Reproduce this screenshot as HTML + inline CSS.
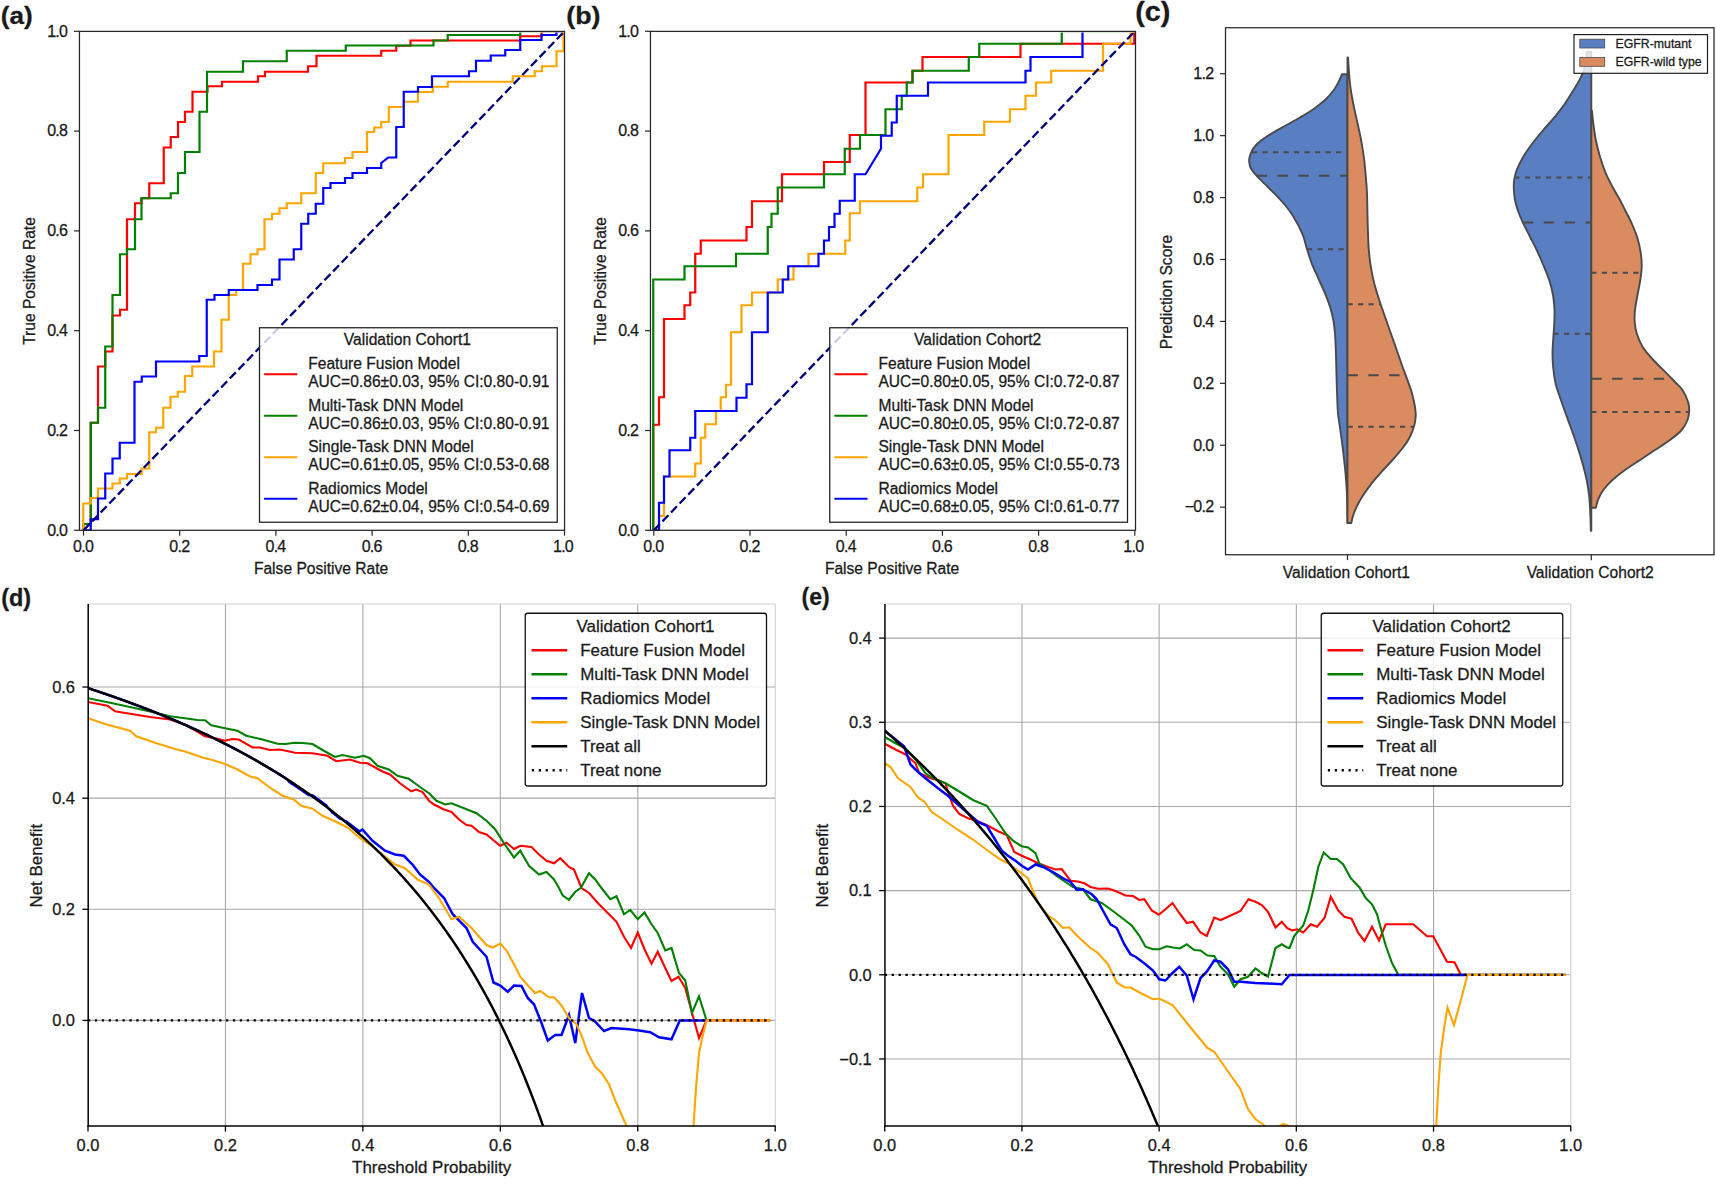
<!DOCTYPE html>
<html lang="en"><head><meta charset="utf-8"><title>Model performance figure</title>
<style>html,body{margin:0;padding:0;background:#fff}svg{display:block}text{font-family:"Liberation Sans", Arial, Helvetica, sans-serif;fill:#1a1a1a;stroke:#1a1a1a;stroke-width:.28px}</style>
</head><body>
<svg width="1716" height="1184" viewBox="0 0 1716 1184">
<rect x="0" y="0" width="1716" height="1184" fill="#ffffff"/>
<defs>
<clipPath id="clipA"><rect x="79" y="32.45" width="486.2" height="498.55"/></clipPath>
<clipPath id="clipB"><rect x="650" y="32.45" width="486.2" height="498.55"/></clipPath>
<clipPath id="clipC"><rect x="1225.5" y="27.75" width="488.5" height="527"/></clipPath>
<clipPath id="clipD"><rect x="88" y="604" width="687.25" height="522"/></clipPath>
<clipPath id="clipE"><rect x="884.75" y="604" width="686" height="522"/></clipPath>
</defs>
<g clip-path="url(#clipA)">
<polyline points="83.25,530.25 83.25,524 90.75,524 90.75,422.75 98,422.75 98,366.5 105.25,366.5 105.25,351.5 112.5,351.5 112.5,315.5 120,315.5 120,309.75 127,309.75 127,219.25 135,219.25 135,203.25 141.5,203.25 141.5,198.25 149.25,198.25 149.25,183.25 163.75,183.25 163.75,147.5 170.75,147.5 170.75,137 178,137 178,122 185,122 185,111.75 192.5,111.75 192.5,91.75 207.5,91.75 207.5,86.25 222,86.25 222,81.75 258,81.75 258,76.25 265,76.25 265,71.75 308,71.75 308,66.25 316.5,66.25 316.5,55.75 381.25,55.75 381.25,50.75 396.25,50.75 396.25,45.75 410.5,45.75 410.5,40.5 520.25,40.5 520.25,36.25 541.5,36.25 541.5,31.25 563.5,31.25" fill="none" stroke="#ff0000" stroke-width="2.2" stroke-linejoin="miter" />
<polyline points="83.25,530.25 83.25,524 90.75,524 90.75,422.75 98,422.75 98,407.75 105.25,407.75 105.25,346.5 112.5,346.5 112.5,295 120,295 120,254.25 127,254.25 127,249.25 135,249.25 135,219.25 141.5,219.25 141.5,198.25 170.75,198.25 170.75,193.25 178,193.25 178,173 185,173 185,152 199.5,152 199.5,111.75 207,111.75 207,71.75 243,71.75 243,61.25 286.75,61.25 286.75,50.75 345.75,50.75 345.75,45.5 433.5,45.5 433.5,40.5 447.75,40.5 447.75,35 520.25,35 520.25,31.25 563.5,31.25" fill="none" stroke="#008000" stroke-width="2.2" stroke-linejoin="miter" />
<polyline points="83.25,530.25 83.25,503.5 90.75,503.5 90.75,498 98,498 98,488.5 112.5,488.5 112.5,483.5 119.75,483.5 119.75,478.5 127,478.5 127,474 141.75,474 141.75,468.5 149.25,468.5 149.25,432.25 156,432.25 156,427.75 163.25,427.75 163.25,407.75 170.5,407.75 170.5,396.75 177.75,396.75 177.75,391.75 185,391.75 185,376 192.25,376 192.25,366.5 214,366.5 214,351.5 221.5,351.5 221.5,319.75 228.75,319.75 228.75,295 236.25,295 236.25,290 243,290 243,263.75 250.5,263.75 250.5,254.25 257.5,254.25 257.5,249.25 264.5,249.25 264.5,219.25 272,219.25 272,213.75 279.5,213.75 279.5,208.25 286.75,208.25 286.75,203.25 301.25,203.25 301.25,193.25 315.75,193.25 315.75,173 323.25,173 323.25,163.25 345,163.25 345,158 352.5,158 352.5,152 367,152 367,132 374.25,132 374.25,127.5 381.25,127.5 381.25,122 388.75,122 388.75,107 403.75,107 403.75,101.75 418,101.75 418,92 432.75,92 432.75,86.75 447.75,86.75 447.75,81.75 512.75,81.75 512.75,76.25 534.75,76.25 534.75,71.25 542,71.25 542,66.25 556.5,66.25 556.5,51.25 563.5,51.25 563.5,31.25" fill="none" stroke="#ffa500" stroke-width="2.2" stroke-linejoin="miter" />
<polyline points="83.25,530.25 90.75,530.25 90.75,519.25 98,519.25 98,498.5 105.25,498.5 105.25,473.5 112.5,473.5 112.5,458.5 119.75,458.5 119.75,442.75 134.5,442.75 134.5,381.75 141.75,381.75 141.75,376.5 156,376.5 156,361.5 199.25,361.5 199.25,356 206.75,356 206.75,299.75 214.5,299.75 214.5,295 228.75,295 228.75,290 257.5,290 257.5,285 272,285 272,279.5 279.5,279.5 279.5,259.5 293.75,259.5 293.75,249.25 301.25,249.25 301.25,223.75 308.25,223.75 308.25,213.75 315.75,213.75 315.75,203.75 323.25,203.75 323.25,188 330.5,188 330.5,183 345,183 345,178 352.5,178 352.5,173 367,173 367,168 381.25,168 381.25,163 388.25,157.5 396.25,157.5 396.25,127 403.75,127 403.75,91.75 418,91.75 418,87 432,87 432,76.25 469,76.25 469,71.25 476,71.25 476,60.75 490.75,60.75 490.75,55.5 505.25,55.5 505.25,50 520.25,50 520.25,40 541.5,40 541.5,35 556.5,35 556.5,31.25 563.5,31.25" fill="none" stroke="#0000ff" stroke-width="2.2" stroke-linejoin="miter" />
<line x1="83.5" y1="530.3" x2="564.5" y2="31.3" stroke="#00007f" stroke-width="2.3" stroke-dasharray="8.6 3.8"/>
</g>
<rect x="79.45" y="31.4" width="485.1" height="498.9" fill="none" stroke="#262626" stroke-width="1.25"/>
<line x1="83.5" y1="530.3" x2="83.5" y2="535.7" stroke="#262626" stroke-width="1.2" />
<text x="83.1" y="552.1" font-size="16.0" text-anchor="middle" font-weight="normal" letter-spacing="-0.72">0.0</text>
<line x1="74.05" y1="530.3" x2="79.45" y2="530.3" stroke="#262626" stroke-width="1.2" />
<text x="67.25" y="535.6" font-size="16.0" text-anchor="end" font-weight="normal" letter-spacing="-0.72">0.0</text>
<line x1="179.7" y1="530.3" x2="179.7" y2="535.7" stroke="#262626" stroke-width="1.2" />
<text x="179.3" y="552.1" font-size="16.0" text-anchor="middle" font-weight="normal" letter-spacing="-0.72">0.2</text>
<line x1="74.05" y1="430.5" x2="79.45" y2="430.5" stroke="#262626" stroke-width="1.2" />
<text x="67.25" y="435.8" font-size="16.0" text-anchor="end" font-weight="normal" letter-spacing="-0.72">0.2</text>
<line x1="275.9" y1="530.3" x2="275.9" y2="535.7" stroke="#262626" stroke-width="1.2" />
<text x="275.5" y="552.1" font-size="16.0" text-anchor="middle" font-weight="normal" letter-spacing="-0.72">0.4</text>
<line x1="74.05" y1="330.7" x2="79.45" y2="330.7" stroke="#262626" stroke-width="1.2" />
<text x="67.25" y="336" font-size="16.0" text-anchor="end" font-weight="normal" letter-spacing="-0.72">0.4</text>
<line x1="372.1" y1="530.3" x2="372.1" y2="535.7" stroke="#262626" stroke-width="1.2" />
<text x="371.7" y="552.1" font-size="16.0" text-anchor="middle" font-weight="normal" letter-spacing="-0.72">0.6</text>
<line x1="74.05" y1="230.9" x2="79.45" y2="230.9" stroke="#262626" stroke-width="1.2" />
<text x="67.25" y="236.2" font-size="16.0" text-anchor="end" font-weight="normal" letter-spacing="-0.72">0.6</text>
<line x1="468.3" y1="530.3" x2="468.3" y2="535.7" stroke="#262626" stroke-width="1.2" />
<text x="467.9" y="552.1" font-size="16.0" text-anchor="middle" font-weight="normal" letter-spacing="-0.72">0.8</text>
<line x1="74.05" y1="131.1" x2="79.45" y2="131.1" stroke="#262626" stroke-width="1.2" />
<text x="67.25" y="136.4" font-size="16.0" text-anchor="end" font-weight="normal" letter-spacing="-0.72">0.8</text>
<line x1="564.5" y1="530.3" x2="564.5" y2="535.7" stroke="#262626" stroke-width="1.2" />
<text x="563" y="552.1" font-size="16.0" text-anchor="middle" font-weight="normal" letter-spacing="-0.72">1.0</text>
<line x1="74.05" y1="31.3" x2="79.45" y2="31.3" stroke="#262626" stroke-width="1.2" />
<text x="67.25" y="36.6" font-size="16.0" text-anchor="end" font-weight="normal" letter-spacing="-0.72">1.0</text>
<text x="321.1" y="574" font-size="15.6" text-anchor="middle" font-weight="normal" >False Positive Rate</text>
<text x="34.6" y="281" font-size="15.6" text-anchor="middle" font-weight="normal" transform="rotate(-90 34.6 281)" >True Positive Rate</text>
<rect x="259.5" y="327.75" width="297.75" height="194.5" fill="#ffffff" fill-opacity="0.8" stroke="#1f1f1f" stroke-width="1.25"/>
<text x="407.38" y="344.9" font-size="15.6" text-anchor="middle" font-weight="normal" >Validation Cohort1</text>
<line x1="264.1" y1="374.25" x2="297.3" y2="374.25" stroke="#ff0000" stroke-width="1.9" />
<text x="308.2" y="369" font-size="15.6" text-anchor="start" font-weight="normal" >Feature Fusion Model</text>
<text x="308.2" y="387" font-size="15.6" text-anchor="start" font-weight="normal" >AUC=0.86±0.03, 95% CI:0.80-0.91</text>
<line x1="264.1" y1="415.75" x2="297.3" y2="415.75" stroke="#008000" stroke-width="1.9" />
<text x="308.2" y="410.5" font-size="15.6" text-anchor="start" font-weight="normal" >Multi-Task DNN Model</text>
<text x="308.2" y="428.5" font-size="15.6" text-anchor="start" font-weight="normal" >AUC=0.86±0.03, 95% CI:0.80-0.91</text>
<line x1="264.1" y1="457.25" x2="297.3" y2="457.25" stroke="#ffa500" stroke-width="1.9" />
<text x="308.2" y="452" font-size="15.6" text-anchor="start" font-weight="normal" >Single-Task DNN Model</text>
<text x="308.2" y="470" font-size="15.6" text-anchor="start" font-weight="normal" >AUC=0.61±0.05, 95% CI:0.53-0.68</text>
<line x1="264.1" y1="498.75" x2="297.3" y2="498.75" stroke="#0000ff" stroke-width="1.9" />
<text x="308.2" y="493.5" font-size="15.6" text-anchor="start" font-weight="normal" >Radiomics Model</text>
<text x="308.2" y="511.5" font-size="15.6" text-anchor="start" font-weight="normal" >AUC=0.62±0.04, 95% CI:0.54-0.69</text>
<g clip-path="url(#clipB)">
<polyline points="653.25,530.25 653.25,424.75 659,424.75 659,397.25 664,397.25 664,319 684.5,319 684.5,305.25 690.25,305.25 690.25,292.5 695.25,292.5 695.25,253.75 700.75,253.75 700.75,240.5 746.5,240.5 746.5,227 752,227 752,201.25 782,201.25 782,174.25 824,174.25 824,162 849.75,162 849.75,135 865.5,135 865.5,82.5 912.5,82.5 912.5,70.75 922.5,70.75 922.5,57 1020.5,57 1020.5,43.75 1134.25,43.75 1134.25,31.25" fill="none" stroke="#ff0000" stroke-width="2.2" stroke-linejoin="miter" />
<polyline points="653.25,530.25 653.25,279.5 684.5,279.5 684.5,266.25 736,266.25 736,253.75 767.75,253.75 767.75,227 771.5,227 771.5,213.75 777.75,213.75 777.75,187.5 824,187.5 824,174.25 844.75,174.25 844.75,148.75 860,148.75 860,135 885.5,135 885.5,109.25 901.75,109.25 901.75,95.75 906.75,95.75 906.75,82.5 912.5,82.5 912.5,70.75 968.75,70.75 968.75,57 979.25,57 979.25,43.75 1061.75,43.75 1061.75,31.25 1134.25,31.25" fill="none" stroke="#008000" stroke-width="2.2" stroke-linejoin="miter" />
<polyline points="653.25,530.25 659,530.25 659,516 664,516 664,476.5 695.25,476.5 695.25,463.5 700.75,463.5 700.75,437.75 705.25,437.75 705.25,424.25 716,424.25 716,411 720.75,411 720.75,397.25 726,397.25 726,384.75 731,384.75 731,332.25 741.5,332.25 741.5,305.25 752,305.25 752,292.5 777.75,292.5 777.75,279.5 793.5,279.5 793.5,266.25 808.5,266.25 808.5,253.75 845.25,253.75 845.25,240.5 849.75,240.5 849.75,213.25 860,213.25 860,201.25 917.25,201.25 917.25,187.5 923,187.5 923,174.25 948.5,174.25 948.5,135 984.25,135 984.25,121.75 1010,121.75 1010,109.25 1025.5,109.25 1025.5,95.75 1036,95.75 1036,82.5 1051.25,82.5 1051.25,70.75 1103,70.75 1103,43.75 1130.5,43.75 1130.5,31.25 1134.25,31.25" fill="none" stroke="#ffa500" stroke-width="2.2" stroke-linejoin="miter" />
<polyline points="653.25,530.25 659,530.25 659,502.75 664,502.75 664,476.5 669.5,476.5 669.5,450.25 690.25,450.25 690.25,437.75 695.25,437.75 695.25,411 736.5,411 736.5,397.75 746.5,397.75 746.5,384.25 752,384.25 752,332.25 767.75,332.25 767.75,292.5 782.75,292.5 782.75,279.5 788.25,279.5 788.25,266.25 818.5,266.25 818.5,253.75 824,253.75 824,240.5 829,240.5 829,227 834.5,227 834.5,213.75 839.75,213.75 839.75,200.75 854.75,200.75 854.75,174.25 865.5,174.25 881,148.75 881,135.75 891.75,135.75 891.75,122.5 896.75,122.5 896.75,95.75 928,95.75 928,82.5 1025.5,82.5 1025.5,70.75 1030.5,70.75 1030.5,57 1082.5,57 1082.5,31.25" fill="none" stroke="#0000ff" stroke-width="2.2" stroke-linejoin="miter" />
<line x1="653.8" y1="530.3" x2="1134.8" y2="31.3" stroke="#00007f" stroke-width="2.3" stroke-dasharray="8.6 3.8"/>
</g>
<rect x="650.45" y="31.4" width="485.05" height="498.9" fill="none" stroke="#262626" stroke-width="1.25"/>
<line x1="653.8" y1="530.3" x2="653.8" y2="535.7" stroke="#262626" stroke-width="1.2" />
<text x="653.4" y="552.1" font-size="16.0" text-anchor="middle" font-weight="normal" letter-spacing="-0.72">0.0</text>
<line x1="645.05" y1="530.3" x2="650.45" y2="530.3" stroke="#262626" stroke-width="1.2" />
<text x="638.25" y="535.6" font-size="16.0" text-anchor="end" font-weight="normal" letter-spacing="-0.72">0.0</text>
<line x1="750" y1="530.3" x2="750" y2="535.7" stroke="#262626" stroke-width="1.2" />
<text x="749.6" y="552.1" font-size="16.0" text-anchor="middle" font-weight="normal" letter-spacing="-0.72">0.2</text>
<line x1="645.05" y1="430.5" x2="650.45" y2="430.5" stroke="#262626" stroke-width="1.2" />
<text x="638.25" y="435.8" font-size="16.0" text-anchor="end" font-weight="normal" letter-spacing="-0.72">0.2</text>
<line x1="846.2" y1="530.3" x2="846.2" y2="535.7" stroke="#262626" stroke-width="1.2" />
<text x="845.8" y="552.1" font-size="16.0" text-anchor="middle" font-weight="normal" letter-spacing="-0.72">0.4</text>
<line x1="645.05" y1="330.7" x2="650.45" y2="330.7" stroke="#262626" stroke-width="1.2" />
<text x="638.25" y="336" font-size="16.0" text-anchor="end" font-weight="normal" letter-spacing="-0.72">0.4</text>
<line x1="942.4" y1="530.3" x2="942.4" y2="535.7" stroke="#262626" stroke-width="1.2" />
<text x="942" y="552.1" font-size="16.0" text-anchor="middle" font-weight="normal" letter-spacing="-0.72">0.6</text>
<line x1="645.05" y1="230.9" x2="650.45" y2="230.9" stroke="#262626" stroke-width="1.2" />
<text x="638.25" y="236.2" font-size="16.0" text-anchor="end" font-weight="normal" letter-spacing="-0.72">0.6</text>
<line x1="1038.6" y1="530.3" x2="1038.6" y2="535.7" stroke="#262626" stroke-width="1.2" />
<text x="1038.2" y="552.1" font-size="16.0" text-anchor="middle" font-weight="normal" letter-spacing="-0.72">0.8</text>
<line x1="645.05" y1="131.1" x2="650.45" y2="131.1" stroke="#262626" stroke-width="1.2" />
<text x="638.25" y="136.4" font-size="16.0" text-anchor="end" font-weight="normal" letter-spacing="-0.72">0.8</text>
<line x1="1134.8" y1="530.3" x2="1134.8" y2="535.7" stroke="#262626" stroke-width="1.2" />
<text x="1133.3" y="552.1" font-size="16.0" text-anchor="middle" font-weight="normal" letter-spacing="-0.72">1.0</text>
<line x1="645.05" y1="31.3" x2="650.45" y2="31.3" stroke="#262626" stroke-width="1.2" />
<text x="638.25" y="36.6" font-size="16.0" text-anchor="end" font-weight="normal" letter-spacing="-0.72">1.0</text>
<text x="892.08" y="574" font-size="15.6" text-anchor="middle" font-weight="normal" >False Positive Rate</text>
<text x="605.6" y="281" font-size="15.6" text-anchor="middle" font-weight="normal" transform="rotate(-90 605.6 281)" >True Positive Rate</text>
<rect x="829.75" y="327.75" width="297.75" height="194.5" fill="#ffffff" fill-opacity="0.8" stroke="#1f1f1f" stroke-width="1.25"/>
<text x="977.62" y="344.9" font-size="15.6" text-anchor="middle" font-weight="normal" >Validation Cohort2</text>
<line x1="834.35" y1="374.25" x2="867.55" y2="374.25" stroke="#ff0000" stroke-width="1.9" />
<text x="878.45" y="369" font-size="15.6" text-anchor="start" font-weight="normal" >Feature Fusion Model</text>
<text x="878.45" y="387" font-size="15.6" text-anchor="start" font-weight="normal" >AUC=0.80±0.05, 95% CI:0.72-0.87</text>
<line x1="834.35" y1="415.75" x2="867.55" y2="415.75" stroke="#008000" stroke-width="1.9" />
<text x="878.45" y="410.5" font-size="15.6" text-anchor="start" font-weight="normal" >Multi-Task DNN Model</text>
<text x="878.45" y="428.5" font-size="15.6" text-anchor="start" font-weight="normal" >AUC=0.80±0.05, 95% CI:0.72-0.87</text>
<line x1="834.35" y1="457.25" x2="867.55" y2="457.25" stroke="#ffa500" stroke-width="1.9" />
<text x="878.45" y="452" font-size="15.6" text-anchor="start" font-weight="normal" >Single-Task DNN Model</text>
<text x="878.45" y="470" font-size="15.6" text-anchor="start" font-weight="normal" >AUC=0.63±0.05, 95% CI:0.55-0.73</text>
<line x1="834.35" y1="498.75" x2="867.55" y2="498.75" stroke="#0000ff" stroke-width="1.9" />
<text x="878.45" y="493.5" font-size="15.6" text-anchor="start" font-weight="normal" >Radiomics Model</text>
<text x="878.45" y="511.5" font-size="15.6" text-anchor="start" font-weight="normal" >AUC=0.68±0.05, 95% CI:0.61-0.77</text>
<g clip-path="url(#clipC)">
<path d="M1347.5,74.2 L1342,74.2 C1341.38,75.58 1339.75,79.73 1338.3,82.5 C1336.85,85.27 1335.52,87.88 1333.3,90.8 C1331.08,93.72 1328.33,96.93 1325,100 C1321.67,103.07 1317.47,106.28 1313.3,109.2 C1309.13,112.12 1304.43,114.87 1300,117.5 C1295.57,120.13 1291.15,122.5 1286.7,125 C1282.25,127.5 1277.47,130 1273.3,132.5 C1269.13,135 1265.03,137.37 1261.7,140 C1258.37,142.63 1255.3,145.52 1253.3,148.3 C1251.3,151.08 1250.38,154.47 1249.7,156.7 C1249.02,158.93 1249.02,159.77 1249.2,161.7 C1249.38,163.63 1249.55,165.95 1250.8,168.3 C1252.05,170.65 1254.33,173.15 1256.7,175.8 C1259.07,178.45 1261.95,181.13 1265,184.2 C1268.05,187.27 1271.67,190.73 1275,194.2 C1278.33,197.67 1281.92,201.25 1285,205 C1288.08,208.75 1290.58,211.83 1293.5,216.7 C1296.42,221.57 1300.25,228.78 1302.5,234.2 C1304.75,239.62 1305.47,244.35 1307,249.2 C1308.53,254.05 1309.82,258.45 1311.7,263.3 C1313.58,268.15 1316.08,273.3 1318.3,278.3 C1320.52,283.3 1323.05,288.57 1325,293.3 C1326.95,298.03 1328.62,302.25 1330,306.7 C1331.38,311.15 1332.47,315.57 1333.3,320 C1334.13,324.43 1334.58,328.3 1335,333.3 C1335.42,338.3 1335.58,344.43 1335.8,350 C1336.02,355.57 1336.15,361.15 1336.3,366.7 C1336.45,372.25 1336.55,378.3 1336.7,383.3 C1336.85,388.3 1336.98,391.7 1337.2,396.7 C1337.42,401.7 1337.4,407.2 1338,413.3 C1338.6,419.4 1339.9,426.63 1340.8,433.3 C1341.7,439.97 1342.62,446.63 1343.4,453.3 C1344.18,459.97 1344.92,466.63 1345.5,473.3 C1346.08,479.97 1346.6,486.63 1346.9,493.3 C1347.2,499.97 1347.2,508.35 1347.3,513.3 C1347.4,518.25 1347.47,521.38 1347.5,523 L1347.5,523 Z" fill="#5a7ec2" stroke="#4a4a4a" stroke-width="1.9" stroke-linejoin="round"/>
<path d="M1347.5,57.5 L1348,57.5 C1348.2,60.42 1348.73,69.58 1349.2,75 C1349.67,80.42 1349.97,84.45 1350.8,90 C1351.63,95.55 1352.95,102.18 1354.2,108.3 C1355.45,114.42 1357.05,120.87 1358.3,126.7 C1359.55,132.53 1360.72,137.75 1361.7,143.3 C1362.68,148.85 1363.52,154.43 1364.2,160 C1364.88,165.57 1365.33,171.15 1365.8,176.7 C1366.27,182.25 1366.72,186.63 1367,193.3 C1367.28,199.97 1367.33,210.03 1367.5,216.7 C1367.67,223.37 1367.78,227.75 1368,233.3 C1368.22,238.85 1368.33,244.43 1368.8,250 C1369.27,255.57 1369.9,261.15 1370.8,266.7 C1371.7,272.25 1372.8,277.75 1374.2,283.3 C1375.6,288.85 1377.4,294.43 1379.2,300 C1381,305.57 1383.07,311.15 1385,316.7 C1386.93,322.25 1388.85,327.75 1390.8,333.3 C1392.75,338.85 1394.75,344.43 1396.7,350 C1398.65,355.57 1400.65,361.53 1402.5,366.7 C1404.35,371.87 1406.38,377.12 1407.8,381 C1409.22,384.88 1410.03,386.83 1411,390 C1411.97,393.17 1412.88,396.83 1413.6,400 C1414.32,403.17 1414.95,406.33 1415.3,409 C1415.65,411.67 1415.85,413.33 1415.7,416 C1415.55,418.67 1415.35,421.55 1414.4,425 C1413.45,428.45 1411.98,432.82 1410,436.7 C1408.02,440.58 1405.42,444.42 1402.5,448.3 C1399.58,452.18 1395.97,456.1 1392.5,460 C1389.03,463.9 1385.17,467.82 1381.7,471.7 C1378.23,475.58 1374.77,479.42 1371.7,483.3 C1368.63,487.18 1365.67,491.38 1363.3,495 C1360.93,498.62 1359.17,501.67 1357.5,505 C1355.83,508.33 1354.33,512 1353.3,515 C1352.27,518 1351.63,521.67 1351.3,523 L1347.5,523 Z" fill="#da8b5f" stroke="#4a4a4a" stroke-width="1.9" stroke-linejoin="round"/>
<path d="M1591.3,51.7 L1586.7,51.7 C1586.6,53.25 1586.6,57.78 1586.1,61 C1585.6,64.22 1584.52,68.42 1583.7,71 C1582.88,73.58 1582.15,74.53 1581.2,76.5 C1580.25,78.47 1579.37,80.38 1578,82.8 C1576.63,85.22 1575.17,87.55 1573,91 C1570.83,94.45 1568,99.22 1565,103.5 C1562,107.78 1558.62,112.28 1555,116.7 C1551.38,121.12 1547.05,125.57 1543.3,130 C1539.55,134.43 1535.83,138.85 1532.5,143.3 C1529.17,147.75 1525.93,152.25 1523.3,156.7 C1520.67,161.15 1518.22,166.12 1516.7,170 C1515.18,173.88 1514.68,176.95 1514.2,180 C1513.72,183.05 1513.67,184.97 1513.8,188.3 C1513.93,191.63 1514.25,196.1 1515,200 C1515.75,203.9 1516.92,207.82 1518.3,211.7 C1519.68,215.58 1521.35,219.13 1523.3,223.3 C1525.25,227.47 1527.77,232.25 1530,236.7 C1532.23,241.15 1534.48,245.28 1536.7,250 C1538.92,254.72 1541.22,260 1543.3,265 C1545.38,270 1547.58,275 1549.2,280 C1550.82,285 1552.12,290 1553,295 C1553.88,300 1554.3,305 1554.5,310 C1554.7,315 1554.4,320.28 1554.2,325 C1554,329.72 1553.58,333.58 1553.3,338.3 C1553.02,343.02 1552.5,348.3 1552.5,353.3 C1552.5,358.3 1552.8,363.3 1553.3,368.3 C1553.8,373.3 1554.52,378.85 1555.5,383.3 C1556.48,387.75 1557.62,390.27 1559.2,395 C1560.78,399.73 1562.92,405.87 1565,411.7 C1567.08,417.53 1569.62,424.17 1571.7,430 C1573.78,435.83 1575.7,441.15 1577.5,446.7 C1579.3,452.25 1580.97,457.75 1582.5,463.3 C1584.03,468.85 1585.58,474.43 1586.7,480 C1587.82,485.57 1588.6,491.15 1589.2,496.7 C1589.8,502.25 1590.03,507.62 1590.3,513.3 C1590.57,518.98 1590.72,527.88 1590.8,530.8 L1591.3,530.8 Z" fill="#5a7ec2" stroke="#4a4a4a" stroke-width="1.9" stroke-linejoin="round"/>
<path d="M1591.3,110.8 L1592,110.8 C1592.22,112.88 1592.67,118.43 1593.3,123.3 C1593.93,128.17 1594.68,134.43 1595.8,140 C1596.92,145.57 1598.33,151.15 1600,156.7 C1601.67,162.25 1603.58,168.03 1605.8,173.3 C1608.02,178.57 1610.93,183.85 1613.3,188.3 C1615.67,192.75 1618.05,196.38 1620,200 C1621.95,203.62 1623.05,206.12 1625,210 C1626.95,213.88 1629.62,218.58 1631.7,223.3 C1633.78,228.02 1635.98,233.3 1637.5,238.3 C1639.02,243.3 1640.1,248.57 1640.8,253.3 C1641.5,258.03 1641.78,262.25 1641.7,266.7 C1641.62,271.15 1641,275.28 1640.3,280 C1639.6,284.72 1638.38,290 1637.5,295 C1636.62,300 1635.47,305.55 1635,310 C1634.53,314.45 1634.42,317.82 1634.7,321.7 C1634.98,325.58 1635.4,329.13 1636.7,333.3 C1638,337.47 1639.73,342.25 1642.5,346.7 C1645.27,351.15 1649.27,355.57 1653.3,360 C1657.33,364.43 1662.92,369.47 1666.7,373.3 C1670.48,377.13 1673.37,380.22 1676,383 C1678.63,385.78 1680.5,386.88 1682.5,390 C1684.5,393.12 1686.88,398.23 1688,401.7 C1689.12,405.17 1689.28,407.75 1689.2,410.8 C1689.12,413.85 1688.75,416.8 1687.5,420 C1686.25,423.2 1684.62,426.67 1681.7,430 C1678.78,433.33 1674.45,436.67 1670,440 C1665.55,443.33 1660,446.67 1655,450 C1650,453.33 1645,456.67 1640,460 C1635,463.33 1629.58,466.67 1625,470 C1620.42,473.33 1616.12,476.67 1612.5,480 C1608.88,483.33 1605.67,486.8 1603.3,490 C1600.93,493.2 1599.55,496.23 1598.3,499.2 C1597.05,502.17 1596.22,506.37 1595.8,507.8 L1591.3,507.8 Z" fill="#da8b5f" stroke="#4a4a4a" stroke-width="1.9" stroke-linejoin="round"/>
<line x1="1252" y1="152.2" x2="1347.5" y2="152.2" stroke="#4a4a4a" stroke-width="2.0" stroke-dasharray="5.2 5.3"/>
<line x1="1256.7" y1="175.8" x2="1347.5" y2="175.8" stroke="#4a4a4a" stroke-width="2.0" stroke-dasharray="10.4 10.4"/>
<line x1="1307" y1="249.3" x2="1347.5" y2="249.3" stroke="#4a4a4a" stroke-width="2.0" stroke-dasharray="5.2 5.3"/>
<line x1="1347.5" y1="304.3" x2="1381" y2="304.3" stroke="#4a4a4a" stroke-width="2.0" stroke-dasharray="5.2 5.3"/>
<line x1="1347.5" y1="375.2" x2="1405.5" y2="375.2" stroke="#4a4a4a" stroke-width="2.0" stroke-dasharray="10.4 10.4"/>
<line x1="1347.5" y1="426.8" x2="1414" y2="426.8" stroke="#4a4a4a" stroke-width="2.0" stroke-dasharray="5.2 5.3"/>
<line x1="1514.4" y1="177.5" x2="1591.3" y2="177.5" stroke="#4a4a4a" stroke-width="2.0" stroke-dasharray="5.2 5.3"/>
<line x1="1523" y1="222.5" x2="1591.3" y2="222.5" stroke="#4a4a4a" stroke-width="2.0" stroke-dasharray="10.4 10.4"/>
<line x1="1553.6" y1="333.8" x2="1591.3" y2="333.8" stroke="#4a4a4a" stroke-width="2.0" stroke-dasharray="5.2 5.3"/>
<line x1="1591.3" y1="272.8" x2="1641.3" y2="272.8" stroke="#4a4a4a" stroke-width="2.0" stroke-dasharray="5.2 5.3"/>
<line x1="1591.3" y1="378.7" x2="1672" y2="378.7" stroke="#4a4a4a" stroke-width="2.0" stroke-dasharray="10.4 10.4"/>
<line x1="1591.3" y1="412" x2="1689" y2="412" stroke="#4a4a4a" stroke-width="2.0" stroke-dasharray="5.2 5.3"/>
</g>
<rect x="1225.5" y="27.75" width="488.5" height="527" fill="none" stroke="#262626" stroke-width="1.25"/>
<line x1="1220.1" y1="507.17" x2="1225.5" y2="507.17" stroke="#262626" stroke-width="1.2" />
<text x="1213.4" y="512.47" font-size="16.0" text-anchor="end" font-weight="normal" letter-spacing="-0.72">−0.2</text>
<line x1="1220.1" y1="445.25" x2="1225.5" y2="445.25" stroke="#262626" stroke-width="1.2" />
<text x="1213.4" y="450.55" font-size="16.0" text-anchor="end" font-weight="normal" letter-spacing="-0.72">0.0</text>
<line x1="1220.1" y1="383.33" x2="1225.5" y2="383.33" stroke="#262626" stroke-width="1.2" />
<text x="1213.4" y="388.63" font-size="16.0" text-anchor="end" font-weight="normal" letter-spacing="-0.72">0.2</text>
<line x1="1220.1" y1="321.41" x2="1225.5" y2="321.41" stroke="#262626" stroke-width="1.2" />
<text x="1213.4" y="326.71" font-size="16.0" text-anchor="end" font-weight="normal" letter-spacing="-0.72">0.4</text>
<line x1="1220.1" y1="259.49" x2="1225.5" y2="259.49" stroke="#262626" stroke-width="1.2" />
<text x="1213.4" y="264.79" font-size="16.0" text-anchor="end" font-weight="normal" letter-spacing="-0.72">0.6</text>
<line x1="1220.1" y1="197.57" x2="1225.5" y2="197.57" stroke="#262626" stroke-width="1.2" />
<text x="1213.4" y="202.87" font-size="16.0" text-anchor="end" font-weight="normal" letter-spacing="-0.72">0.8</text>
<line x1="1220.1" y1="135.65" x2="1225.5" y2="135.65" stroke="#262626" stroke-width="1.2" />
<text x="1213.4" y="140.95" font-size="16.0" text-anchor="end" font-weight="normal" letter-spacing="-0.72">1.0</text>
<line x1="1220.1" y1="73.73" x2="1225.5" y2="73.73" stroke="#262626" stroke-width="1.2" />
<text x="1213.4" y="79.03" font-size="16.0" text-anchor="end" font-weight="normal" letter-spacing="-0.72">1.2</text>
<line x1="1347.5" y1="554.75" x2="1347.5" y2="560.15" stroke="#262626" stroke-width="1.2" />
<text x="1346.4" y="577.6" font-size="15.6" text-anchor="middle" font-weight="normal" >Validation Cohort1</text>
<line x1="1591.3" y1="554.75" x2="1591.3" y2="560.15" stroke="#262626" stroke-width="1.2" />
<text x="1590.2" y="577.6" font-size="15.6" text-anchor="middle" font-weight="normal" >Validation Cohort2</text>
<text x="1172.4" y="292" font-size="15.6" text-anchor="middle" font-weight="normal" transform="rotate(-90 1172.4 292)" >Prediction Score</text>
<rect x="1574" y="34.6" width="133.5" height="38.7" fill="#ffffff" fill-opacity="0.8" stroke="#1f1f1f" stroke-width="1.2"/>
<rect x="1579.8" y="39.2" width="24.9" height="8.8" fill="#5a7ec2" stroke="#4a4a4a" stroke-width="0.8"/>
<rect x="1579.8" y="57.5" width="24.9" height="8.8" fill="#da8b5f" stroke="#4a4a4a" stroke-width="0.8"/>
<text x="1615.6" y="47.6" font-size="12.3" text-anchor="start" font-weight="normal" >EGFR-mutant</text>
<text x="1615.6" y="65.9" font-size="12.3" text-anchor="start" font-weight="normal" >EGFR-wild type</text>
<line x1="225.44" y1="604" x2="225.44" y2="1126" stroke="#a9a9a9" stroke-width="1.1" />
<line x1="362.88" y1="604" x2="362.88" y2="1126" stroke="#a9a9a9" stroke-width="1.1" />
<line x1="500.32" y1="604" x2="500.32" y2="1126" stroke="#a9a9a9" stroke-width="1.1" />
<line x1="637.76" y1="604" x2="637.76" y2="1126" stroke="#a9a9a9" stroke-width="1.1" />
<line x1="88" y1="909.28" x2="775.25" y2="909.28" stroke="#a9a9a9" stroke-width="1.1" />
<line x1="88" y1="798.16" x2="775.25" y2="798.16" stroke="#a9a9a9" stroke-width="1.1" />
<line x1="88" y1="687.04" x2="775.25" y2="687.04" stroke="#a9a9a9" stroke-width="1.1" />
<line x1="88" y1="1020.4" x2="775.25" y2="1020.4" stroke="#a9a9a9" stroke-width="1.1" />
<line x1="88" y1="604" x2="775.25" y2="604" stroke="#cfcfcf" stroke-width="1.1" />
<line x1="775.25" y1="604" x2="775.25" y2="1126" stroke="#cfcfcf" stroke-width="1.1" />
<g clip-path="url(#clipD)">
<polyline points="88,702 107.5,705.75 115,711.25 130,713.75 150,717 170,719.5 185,724.5 195,730.25 205,736.25 217.5,738.75 225,740.75 232.5,739 238.75,739.5 252.5,747.5 260,747.5 270,750 280,749.5 295,752.75 312.5,753.25 327.5,755.75 336.25,761.25 350,759.5 360,762.75 367.5,763.25 382.5,771.5 390,774.5 400,783.25 411.25,791.25 416.25,789.5 422.5,792 429,800.75 434,804.5 444,809.5 451.5,812 459,819.5 466.5,825 471.5,825.75 479,832 486.5,834.5 494,840.75 500.25,845.75 506.5,842.75 514,849 520.25,845.75 531.5,847 539,854.5 546.5,860.75 554,863.25 560.25,858.25 569,867 574,869.5 581.5,888 589,893 599,904.25 616.5,921.75 624,936.75 631,948 637.75,932.5 644.5,949.25 651.5,963.75 657.75,951.75 665.25,968 671.5,981 678.5,976.75 685.25,988 692,1013 699,1038 706.5,1020.38 770.25,1020.38" fill="none" stroke="#ff0000" stroke-width="2.1" stroke-linejoin="miter" stroke-linejoin="round"/>
<polyline points="88,698.25 112.5,703.25 130,707 150,711.5 170,716.25 185,718.25 197.5,720 205,720.25 211.25,725.25 225,728.25 237.5,730.75 246.25,735.75 262.5,739.5 277.5,743.75 285,744 295,742.75 302.5,743 312.5,744 322.5,750 335,757 342.5,755 355,757.75 363.75,755.75 370,758.25 377.5,765.75 388.75,769.5 397.5,775.75 408.75,778.75 420,787 429,793.25 436.5,800.75 445.25,804.5 451.5,803.25 464,808.25 476.5,813.25 486.5,820.75 495.25,829.5 504,843.25 514,857.5 520.25,850.75 529,865.75 539,874.5 546.5,872 554,879.5 559,888 562.75,895.5 569,899.75 575.25,891.75 580.75,888 589,873.25 595.25,879.5 601.5,888 610.25,899.25 616.5,896.25 624,914.25 630.25,910 637.75,919.25 644.5,912.5 651.5,924.25 657.75,933 665.25,950.5 671.5,948 679,973 685.25,980.5 692,1013 699,996.25 706.5,1020.38" fill="none" stroke="#008000" stroke-width="2.1" stroke-linejoin="miter" stroke-linejoin="round"/>
<polyline points="88,688.15 89.95,688.79 91.91,689.43 93.86,690.07 95.81,690.72 97.76,691.37 99.72,692.03 101.67,692.68 103.62,693.35 105.58,694.01 107.53,694.68 109.48,695.36 111.43,696.04 113.39,696.72 115.34,697.41 117.29,698.1 119.25,698.79 121.2,699.49 123.15,700.19 125.1,700.9 127.06,701.61 129.01,702.33 130.96,703.05 132.92,703.77 134.87,704.5 136.82,705.23 138.77,705.97 140.73,706.71 142.68,707.46 144.63,708.21 146.59,708.97 148.54,709.73 150.49,710.49 152.44,711.26 154.4,712.04 156.35,712.82 158.3,713.6 160.25,714.39 162.21,715.19 164.16,715.99 166.11,716.8 168.07,717.61 170.02,718.42 171.97,719.24 173.92,720.07 175.88,720.9 177.83,721.74 179.78,722.58 181.74,723.43 183.69,724.28 185.64,725.14 187.59,726.01 189.55,726.88 191.5,727.76 193.45,728.64 195.41,729.53 197.36,730.42 199.31,731.32 201.26,732.23 203.22,733.14 205.17,734.06 207.12,734.99 209.08,735.92 211.03,736.86 212.98,737.8 214.93,738.75 216.89,739.71 218.84,740.68 220.79,741.65 222.75,742.63 224.7,743.61 226.65,744.61 228.6,745.61 230.56,746.61 232.51,747.63 234.46,748.65 236.42,749.68 238.37,750.71 240.32,751.76 242.27,752.81 244.23,753.87 246.18,754.93 248.13,756.01 250.09,757.09 252.04,758.18 253.99,759.28 255.94,760.39 257.9,761.51 259.85,762.63 261.8,763.76 263.76,764.9 265.71,766.05 267.66,767.21 269.61,768.38 271.57,769.56 273.52,770.75 275.47,771.94 277.42,773.15 279.38,774.36 281.33,775.58 283.28,776.82 285.24,778.06 287.19,779.32 289.14,781.88 291.09,783.15 293.05,784.44 295,785.73 296.95,787.04 298.91,788.35 300.86,789.68 302.81,791.02 304.76,792.37 306.72,793.73 308.67,795.1 310.62,795.18 312.58,795.37 314.53,796.78 316.48,798.2 318.43,799.63 320.39,801.07 322.34,802.53 324.29,804 326.25,805.48 328.2,808.17 330.15,809.68 332.1,812.3 334.06,813.83 336.01,815.38 337.96,816.94 339.92,818.51 341.87,819 343.82,820.61 345.77,821.14 347.73,822.57 349.68,824.01 351.63,825.46 353.59,826.93 355.54,828.42 357.49,829.92 359.44,831.43 362.5,829.5 372.5,840.75 385,850.75 395,854.5 403.75,855.75 412.5,864.5 420,874.5 429,882 434,888 444,898 452.75,914.25 466.5,928 472.75,941.75 486.5,956.75 493.5,982.5 500.25,985.5 507.75,991.75 514,985.5 521.5,986 527.75,998 534,1004.25 541.5,1023 547.75,1040.5 555.25,1035 561.5,1035 569,1015 575.25,1043 582,993 589,1018 594,1020.5 604,1031 611.5,1028 629,1029.25 639,1030.5 650.25,1032.25 659,1037.25 671.5,1039.25 679.75,1020.38 706.5,1020.38" fill="none" stroke="#0000ff" stroke-width="2.5" stroke-linejoin="miter" stroke-linejoin="round"/>
<polyline points="88,718.25 105,724 130,730.75 136.25,736.25 155,742.75 175,749 185,751.5 202.5,757.5 212.5,760 225,764 237.5,769.5 250,776.5 257.5,778.25 270,787.75 282.5,795.75 293.75,799.5 301.25,805.75 312.5,808.75 322.5,815.75 335,821.25 347.5,827.5 360,838.25 370,844.5 382.5,854.5 395,864.5 405,868.25 417.5,879.5 429,884.5 439,898 451.5,919.25 459,916.75 471.5,928 486.5,945 492.75,947.5 500.25,943.5 506.5,950.5 514,964.25 520.25,976.75 529,986.75 535.25,993 540.25,991 549,997.25 554,997.25 561.5,1005.5 569,1018 576.5,1024.25 581.5,1035.5 587.75,1053 595.25,1066.75 601.5,1073 609,1084.25 615.25,1100.5 626.5,1126" fill="none" stroke="#ffa500" stroke-width="2.1" stroke-linejoin="miter" stroke-linejoin="round"/>
<polyline points="693.5,1126 696,1088 699,1053 702.75,1035.5 706.5,1020.38 770.25,1020.38" fill="none" stroke="#ffa500" stroke-width="2.1" stroke-linejoin="miter" stroke-linejoin="round"/>
<polyline points="88,688.15 89.7,688.71 91.4,689.26 93.1,689.82 94.8,690.38 96.5,690.95 98.2,691.52 99.91,692.09 101.61,692.66 103.31,693.24 105.01,693.82 106.71,694.4 108.41,694.99 110.11,695.58 111.81,696.17 113.51,696.76 115.21,697.36 116.91,697.96 118.61,698.57 120.32,699.17 122.02,699.78 123.72,700.4 125.42,701.01 127.12,701.63 128.82,702.26 130.52,702.88 132.22,703.51 133.92,704.15 135.62,704.78 137.32,705.42 139.02,706.07 140.73,706.71 142.43,707.36 144.13,708.02 145.83,708.67 147.53,709.33 149.23,710 150.93,710.67 152.63,711.34 154.33,712.01 156.03,712.69 157.73,713.38 159.43,714.06 161.14,714.75 162.84,715.45 164.54,716.14 166.24,716.85 167.94,717.55 169.64,718.26 171.34,718.98 173.04,719.69 174.74,720.42 176.44,721.14 178.14,721.87 179.84,722.61 181.55,723.35 183.25,724.09 184.95,724.84 186.65,725.59 188.35,726.34 190.05,727.1 191.75,727.87 193.45,728.64 195.15,729.41 196.85,730.19 198.55,730.97 200.25,731.76 201.95,732.55 203.66,733.35 205.36,734.15 207.06,734.96 208.76,735.77 210.46,736.58 212.16,737.4 213.86,738.23 215.56,739.06 217.26,739.9 218.96,740.74 220.66,741.58 222.36,742.44 224.07,743.29 225.77,744.15 227.47,745.02 229.17,745.9 230.87,746.77 232.57,747.66 234.27,748.55 235.97,749.44 237.67,750.34 239.37,751.25 241.07,752.16 242.77,753.08 244.48,754 246.18,754.93 247.88,755.87 249.58,756.81 251.28,757.76 252.98,758.71 254.68,759.67 256.38,760.64 258.08,761.61 259.78,762.59 261.48,763.58 263.18,764.57 264.89,765.57 266.59,766.57 268.29,767.59 269.99,768.61 271.69,769.63 273.39,770.67 275.09,771.71 276.79,772.75 278.49,773.81 280.19,774.87 281.89,775.94 283.59,777.02 285.3,778.1 287,779.19 288.7,780.29 290.4,781.4 292.1,782.51 293.8,783.63 295.5,784.76 297.2,785.9 298.9,787.05 300.6,788.2 302.3,789.37 304,790.54 305.7,791.72 307.41,792.91 309.11,794.11 310.81,795.31 312.51,796.53 314.21,797.75 315.91,798.98 317.61,800.23 319.31,801.48 321.01,802.74 322.71,804.01 324.41,805.29 326.11,806.58 327.82,807.88 329.52,809.19 331.22,810.5 332.92,811.83 334.62,813.17 336.32,814.52 338.02,815.88 339.72,817.26 341.42,818.64 343.12,820.03 344.82,821.43 346.52,822.85 348.23,824.28 349.93,825.71 351.63,827.16 353.33,828.62 355.03,830.1 356.73,831.58 358.43,833.08 360.13,834.59 361.83,836.11 363.53,837.64 365.23,839.19 366.93,840.75 368.64,842.32 370.34,843.91 372.04,845.51 373.74,847.12 375.44,848.75 377.14,850.39 378.84,852.04 380.54,853.71 382.24,855.39 383.94,857.09 385.64,858.8 387.34,860.53 389.05,862.28 390.75,864.03 392.45,865.81 394.15,867.6 395.85,869.4 397.55,871.23 399.25,873.06 400.95,874.92 402.65,876.79 404.35,878.68 406.05,880.59 407.75,882.51 409.45,884.46 411.16,886.42 412.86,888.4 414.56,890.39 416.26,892.41 417.96,894.45 419.66,896.5 421.36,898.58 423.06,900.67 424.76,902.79 426.46,904.92 428.16,907.08 429.86,909.26 431.57,911.46 433.27,913.68 434.97,915.92 436.67,918.19 438.37,920.48 440.07,922.79 441.77,925.13 443.47,927.49 445.17,929.87 446.87,932.28 448.57,934.72 450.27,937.18 451.98,939.66 453.68,942.17 455.38,944.71 457.08,947.28 458.78,949.87 460.48,952.49 462.18,955.14 463.88,957.82 465.58,960.53 467.28,963.27 468.98,966.04 470.68,968.84 472.39,971.67 474.09,974.53 475.79,977.43 477.49,980.35 479.19,983.32 480.89,986.31 482.59,989.34 484.29,992.41 485.99,995.51 487.69,998.65 489.39,1001.83 491.09,1005.05 492.8,1008.3 494.5,1011.59 496.2,1014.93 497.9,1018.3 499.6,1021.72 501.3,1025.17 503,1028.68 504.7,1032.22 506.4,1035.81 508.1,1039.45 509.8,1043.13 511.5,1046.86 513.21,1050.64 514.91,1054.47 516.61,1058.35 518.31,1062.28 520.01,1066.26 521.71,1070.29 523.41,1074.38 525.11,1078.53 526.81,1082.73 528.51,1086.99 530.21,1091.31 531.91,1095.69 533.61,1100.13 535.32,1104.64 537.02,1109.21 538.72,1113.84 540.42,1118.54 542.12,1123.31 543.82,1128.15 545.52,1133.07 547.22,1138.05 548.92,1143.11 550.62,1148.25 552.32,1153.46 554.02,1158.76" fill="none" stroke="#000000" stroke-width="2.45" stroke-linejoin="miter" />
<line x1="88" y1="1020.4" x2="770.39" y2="1020.4" stroke="#000000" stroke-width="2.3" stroke-dasharray="2.3 4.6"/>
</g>
<line x1="88.2" y1="604" x2="88.2" y2="1126.7" stroke="#000000" stroke-width="1.5" />
<line x1="87.3" y1="1126" x2="775.65" y2="1126" stroke="#000000" stroke-width="1.4" />
<line x1="88" y1="1126" x2="88" y2="1131.6" stroke="#000000" stroke-width="1.3" />
<text x="88" y="1150.6" font-size="16.45" text-anchor="middle" font-weight="normal" >0.0</text>
<line x1="225.44" y1="1126" x2="225.44" y2="1131.6" stroke="#000000" stroke-width="1.3" />
<text x="225.44" y="1150.6" font-size="16.45" text-anchor="middle" font-weight="normal" >0.2</text>
<line x1="362.88" y1="1126" x2="362.88" y2="1131.6" stroke="#000000" stroke-width="1.3" />
<text x="362.88" y="1150.6" font-size="16.45" text-anchor="middle" font-weight="normal" >0.4</text>
<line x1="500.32" y1="1126" x2="500.32" y2="1131.6" stroke="#000000" stroke-width="1.3" />
<text x="500.32" y="1150.6" font-size="16.45" text-anchor="middle" font-weight="normal" >0.6</text>
<line x1="637.76" y1="1126" x2="637.76" y2="1131.6" stroke="#000000" stroke-width="1.3" />
<text x="637.76" y="1150.6" font-size="16.45" text-anchor="middle" font-weight="normal" >0.8</text>
<line x1="775.2" y1="1126" x2="775.2" y2="1131.6" stroke="#000000" stroke-width="1.3" />
<text x="775.2" y="1150.6" font-size="16.45" text-anchor="middle" font-weight="normal" >1.0</text>
<line x1="82.4" y1="1020.4" x2="88" y2="1020.4" stroke="#000000" stroke-width="1.3" />
<text x="75" y="1026.1" font-size="16.45" text-anchor="end" font-weight="normal" >0.0</text>
<line x1="82.4" y1="909.28" x2="88" y2="909.28" stroke="#000000" stroke-width="1.3" />
<text x="75" y="914.98" font-size="16.45" text-anchor="end" font-weight="normal" >0.2</text>
<line x1="82.4" y1="798.16" x2="88" y2="798.16" stroke="#000000" stroke-width="1.3" />
<text x="75" y="803.86" font-size="16.45" text-anchor="end" font-weight="normal" >0.4</text>
<line x1="82.4" y1="687.04" x2="88" y2="687.04" stroke="#000000" stroke-width="1.3" />
<text x="75" y="692.74" font-size="16.45" text-anchor="end" font-weight="normal" >0.6</text>
<text x="431.62" y="1173.2" font-size="16.95" text-anchor="middle" font-weight="normal" >Threshold Probability</text>
<text x="42" y="865.7" font-size="16.95" text-anchor="middle" font-weight="normal" transform="rotate(-90 42 865.7)" >Net Benefit</text>
<rect x="525.25" y="613.25" width="241.25" height="172.75" rx="2.5" ry="2.5" fill="#ffffff" fill-opacity="0.8" stroke="#111111" stroke-width="1.3"/>
<text x="645.48" y="632.2" font-size="16.95" text-anchor="middle" font-weight="normal" >Validation Cohort1</text>
<line x1="531.45" y1="650.2" x2="567.25" y2="650.2" stroke="#ff0000" stroke-width="2.4" />
<text x="580.25" y="655.9" font-size="16.95" text-anchor="start" font-weight="normal" >Feature Fusion Model</text>
<line x1="531.45" y1="674.2" x2="567.25" y2="674.2" stroke="#008000" stroke-width="2.4" />
<text x="580.25" y="679.9" font-size="16.95" text-anchor="start" font-weight="normal" >Multi-Task DNN Model</text>
<line x1="531.45" y1="698.2" x2="567.25" y2="698.2" stroke="#0000ff" stroke-width="2.4" />
<text x="580.25" y="703.9" font-size="16.95" text-anchor="start" font-weight="normal" >Radiomics Model</text>
<line x1="531.45" y1="722.2" x2="567.25" y2="722.2" stroke="#ffa500" stroke-width="2.4" />
<text x="580.25" y="727.9" font-size="16.95" text-anchor="start" font-weight="normal" >Single-Task DNN Model</text>
<line x1="531.45" y1="746.2" x2="567.25" y2="746.2" stroke="#000000" stroke-width="2.4" />
<text x="580.25" y="751.9" font-size="16.95" text-anchor="start" font-weight="normal" >Treat all</text>
<line x1="531.85" y1="770.2" x2="567.25" y2="770.2" stroke="#000000" stroke-width="2.6" stroke-dasharray="2.2 4.7"/>
<text x="580.25" y="775.9" font-size="16.95" text-anchor="start" font-weight="normal" >Treat none</text>
<line x1="1021.95" y1="604" x2="1021.95" y2="1126" stroke="#a9a9a9" stroke-width="1.1" />
<line x1="1159.15" y1="604" x2="1159.15" y2="1126" stroke="#a9a9a9" stroke-width="1.1" />
<line x1="1296.35" y1="604" x2="1296.35" y2="1126" stroke="#a9a9a9" stroke-width="1.1" />
<line x1="1433.55" y1="604" x2="1433.55" y2="1126" stroke="#a9a9a9" stroke-width="1.1" />
<line x1="884.75" y1="1058.98" x2="1570.75" y2="1058.98" stroke="#a9a9a9" stroke-width="1.1" />
<line x1="884.75" y1="890.62" x2="1570.75" y2="890.62" stroke="#a9a9a9" stroke-width="1.1" />
<line x1="884.75" y1="806.44" x2="1570.75" y2="806.44" stroke="#a9a9a9" stroke-width="1.1" />
<line x1="884.75" y1="722.26" x2="1570.75" y2="722.26" stroke="#a9a9a9" stroke-width="1.1" />
<line x1="884.75" y1="638.08" x2="1570.75" y2="638.08" stroke="#a9a9a9" stroke-width="1.1" />
<line x1="884.75" y1="974.8" x2="1570.75" y2="974.8" stroke="#a9a9a9" stroke-width="1.1" />
<line x1="884.75" y1="604" x2="1570.75" y2="604" stroke="#cfcfcf" stroke-width="1.1" />
<line x1="1570.75" y1="604" x2="1570.75" y2="1126" stroke="#cfcfcf" stroke-width="1.1" />
<g clip-path="url(#clipE)">
<polyline points="884.75,743.75 895.5,749.5 905.5,754.5 915.5,763.25 919.25,773.25 930.5,778.25 938,780.25 945.5,783.25 948,792 953,805.75 959.25,814 968,818.25 976.75,820.75 988,825.75 998,831.25 1006.75,835 1014.25,852 1021.75,855.75 1030.5,859.5 1038,863.25 1048,867 1055.5,869.5 1061.75,869 1070.5,880.75 1078,881.5 1084.25,883.25 1090.5,887 1098,888.75 1108,888.5 1115.5,891 1125.5,895.5 1133,896 1139.25,900 1144.25,899.25 1151.75,910.5 1158.75,914.75 1165.5,909.25 1172.5,903 1179.25,913 1186.75,923 1193,921.75 1200.5,932.5 1206.75,936 1214.25,917.5 1220.5,920 1228,916.75 1240.5,911 1248.5,899.25 1255.5,901.75 1261.75,905 1268,911.75 1275.5,927.5 1281.75,921.75 1287,928 1292,930.5 1297,929.25 1303.25,932.5 1310.75,924.25 1317,926.75 1324.5,918 1330.75,896.75 1338.25,910.5 1344.5,916.75 1351.5,918.75 1358.25,933 1364.5,941 1372,926.75 1379,940.5 1385.75,924.25 1413.25,924.25 1427,936.25 1433.25,936.25 1447,961.75 1454.5,962.25 1460.75,974.75 1565.75,974.75" fill="none" stroke="#ff0000" stroke-width="2.1" stroke-linejoin="miter" stroke-linejoin="round"/>
<polyline points="884.75,737 895.5,743.25 905.5,748.25 915.5,759.5 925.5,773.25 933,778.25 945.5,783.25 958,790.75 973,800 980.5,803.25 986.75,805.75 995.5,818.25 1005.5,833.25 1013,840.75 1021.75,846.25 1028,847.5 1035.5,853.25 1039.25,863.25 1048,869.5 1058,877 1065.5,882 1073,887 1083,889.25 1090.5,899.25 1101.75,903 1110.5,909.25 1120.5,916.75 1131.75,925.5 1139.25,935.5 1145.5,946.75 1153,949.25 1159.25,949.25 1166.75,946.25 1173,947.5 1180,948.5 1186.75,944.25 1194.25,950 1200.5,950.5 1207.5,955.5 1214.25,956 1220.5,966.75 1228,974.25 1234.25,986.75 1240.5,979.25 1248,976.75 1255.5,968.5 1261.75,973 1268,976.75 1275.5,948 1281.75,944.25 1287,947.5 1289.5,948 1294.5,935.5 1303.25,925.5 1308.25,910.5 1312,895.5 1313.75,888 1318.25,867 1323.75,852.5 1330.75,859 1337,859 1343.25,864.5 1350.75,878.25 1359.5,887.5 1365.75,898 1372,904.25 1377,914.25 1380.75,928 1385.75,945.5 1392,963 1398.25,974.75 1565.75,974.75" fill="none" stroke="#008000" stroke-width="2.1" stroke-linejoin="miter" stroke-linejoin="round"/>
<polyline points="884.75,730.75 904.25,746.5 910.5,764.5 918,772 925.5,778.25 938,788.25 948,795.75 958,804.5 968,813.25 978,822 986.75,825.75 994.25,838.25 1001.75,850.75 1008,855.75 1015.5,860.75 1021.75,865.75 1028,869.5 1035.5,864.5 1043,867 1053,872 1063,878.25 1070.5,882 1075.5,888 1076.75,890 1083,889.25 1091.75,894.25 1096.75,899.25 1104.25,913 1110.5,924.25 1116.75,928 1124.25,944.25 1130.5,954.25 1135.5,956.75 1145.5,964.25 1153,970.5 1159.25,979.25 1165.5,980.5 1172.5,973 1179.25,966.75 1186.75,975.5 1193.5,999.25 1200.5,978 1206.75,971.75 1214.25,960.5 1220.5,961.75 1228,969.25 1234.25,981.75 1240.5,981.75 1255.5,983 1268,983.5 1281.75,984.25 1289.5,975 1467,975" fill="none" stroke="#0000ff" stroke-width="2.5" stroke-linejoin="miter" stroke-linejoin="round"/>
<polyline points="884.75,763.25 890.5,767 898,778.25 910.5,787 918,797.5 924.25,801.5 931.75,812 943,819.5 958,830 973,839.5 988,850.75 1000.5,859.5 1008,863.25 1018,870.75 1028,878.25 1031.75,888 1038,903 1048,915.5 1055.5,920.5 1063,928 1069.25,927.25 1078,936.75 1090.5,948 1098,953 1108,964.25 1116.75,982.5 1124.25,987.25 1130.5,987.5 1140.5,993 1153,999.25 1159.25,998.5 1172.5,1005 1183,1018 1193,1030.5 1207.5,1048 1214.25,1051.75 1225.5,1068 1240.5,1089.25 1248,1109.25 1255.5,1119.25 1263,1124.25 1265,1127" fill="none" stroke="#ffa500" stroke-width="2.1" stroke-linejoin="miter" stroke-linejoin="round"/>
<polyline points="1278.75,1127 1283,1124 1287,1125.25 1290.5,1127" fill="none" stroke="#ffa500" stroke-width="2.1" stroke-linejoin="miter" stroke-linejoin="round"/>
<polyline points="1436.25,1126.5 1438.25,1088 1440.75,1053 1444.5,1025.5 1447.5,1007.5 1454,1025 1460.75,1000.5 1467.5,975 1565.75,975" fill="none" stroke="#ffa500" stroke-width="2.1" stroke-linejoin="miter" stroke-linejoin="round"/>
<polyline points="884.75,730.68 886.45,732.16 888.15,733.65 889.84,735.15 891.54,736.65 893.24,738.17 894.94,739.69 896.63,741.22 898.33,742.75 900.03,744.29 901.73,745.85 903.43,747.41 905.12,748.97 906.82,750.55 908.52,752.13 910.22,753.72 911.92,755.32 913.61,756.93 915.31,758.55 917.01,760.17 918.71,761.8 920.4,763.45 922.1,765.1 923.8,766.75 925.5,768.42 927.2,770.1 928.89,771.78 930.59,773.48 932.29,775.18 933.99,776.89 935.69,778.61 937.38,780.35 939.08,782.09 940.78,783.83 942.48,785.59 944.17,787.36 945.87,789.14 947.57,790.93 949.27,792.73 950.97,794.53 952.66,796.35 954.36,798.18 956.06,800.01 957.76,801.86 959.46,803.72 961.15,805.59 962.85,807.47 964.55,809.35 966.25,811.25 967.94,813.17 969.64,815.09 971.34,817.02 973.04,818.96 974.74,820.92 976.43,822.88 978.13,824.86 979.83,826.84 981.53,828.84 983.23,830.86 984.92,832.88 986.62,834.91 988.32,836.96 990.02,839.02 991.71,841.09 993.41,843.17 995.11,845.26 996.81,847.37 998.51,849.49 1000.2,851.62 1001.9,853.77 1003.6,855.92 1005.3,858.1 1007,860.28 1008.69,862.48 1010.39,864.69 1012.09,866.91 1013.79,869.15 1015.48,871.4 1017.18,873.66 1018.88,875.94 1020.58,878.23 1022.28,880.54 1023.97,882.86 1025.67,885.2 1027.37,887.55 1029.07,889.91 1030.77,892.29 1032.46,894.69 1034.16,897.1 1035.86,899.52 1037.56,901.96 1039.25,904.42 1040.95,906.89 1042.65,909.38 1044.35,911.89 1046.05,914.41 1047.74,916.94 1049.44,919.5 1051.14,922.07 1052.84,924.65 1054.54,927.26 1056.23,929.88 1057.93,932.52 1059.63,935.17 1061.33,937.85 1063.02,940.54 1064.72,943.25 1066.42,945.97 1068.12,948.72 1069.82,951.48 1071.51,954.27 1073.21,957.07 1074.91,959.89 1076.61,962.73 1078.3,965.59 1080,968.48 1081.7,971.38 1083.4,974.3 1085.1,977.24 1086.79,980.2 1088.49,983.18 1090.19,986.19 1091.89,989.21 1093.59,992.26 1095.28,995.33 1096.98,998.42 1098.68,1001.53 1100.38,1004.66 1102.07,1007.82 1103.77,1011 1105.47,1014.21 1107.17,1017.43 1108.87,1020.68 1110.56,1023.96 1112.26,1027.26 1113.96,1030.58 1115.66,1033.93 1117.36,1037.31 1119.05,1040.7 1120.75,1044.13 1122.45,1047.58 1124.15,1051.06 1125.84,1054.56 1127.54,1058.09 1129.24,1061.65 1130.94,1065.23 1132.64,1068.85 1134.33,1072.49 1136.03,1076.16 1137.73,1079.85 1139.43,1083.58 1141.13,1087.34 1142.82,1091.12 1144.52,1094.94 1146.22,1098.79 1147.92,1102.67 1149.61,1106.58 1151.31,1110.52 1153.01,1114.49 1154.71,1118.49 1156.41,1122.53 1158.1,1126.6 1159.8,1130.71 1161.5,1134.85 1163.2,1139.02 1164.9,1143.23 1166.59,1147.48 1168.29,1151.75 1169.99,1156.07" fill="none" stroke="#000000" stroke-width="2.45" stroke-linejoin="miter" />
<line x1="884.75" y1="974.8" x2="1565.95" y2="974.8" stroke="#000000" stroke-width="2.3" stroke-dasharray="2.3 4.6"/>
</g>
<line x1="884.95" y1="604" x2="884.95" y2="1126.7" stroke="#000000" stroke-width="1.5" />
<line x1="884.05" y1="1126" x2="1571.15" y2="1126" stroke="#000000" stroke-width="1.4" />
<line x1="884.75" y1="1126" x2="884.75" y2="1131.6" stroke="#000000" stroke-width="1.3" />
<text x="884.75" y="1150.6" font-size="16.45" text-anchor="middle" font-weight="normal" >0.0</text>
<line x1="1021.95" y1="1126" x2="1021.95" y2="1131.6" stroke="#000000" stroke-width="1.3" />
<text x="1021.95" y="1150.6" font-size="16.45" text-anchor="middle" font-weight="normal" >0.2</text>
<line x1="1159.15" y1="1126" x2="1159.15" y2="1131.6" stroke="#000000" stroke-width="1.3" />
<text x="1159.15" y="1150.6" font-size="16.45" text-anchor="middle" font-weight="normal" >0.4</text>
<line x1="1296.35" y1="1126" x2="1296.35" y2="1131.6" stroke="#000000" stroke-width="1.3" />
<text x="1296.35" y="1150.6" font-size="16.45" text-anchor="middle" font-weight="normal" >0.6</text>
<line x1="1433.55" y1="1126" x2="1433.55" y2="1131.6" stroke="#000000" stroke-width="1.3" />
<text x="1433.55" y="1150.6" font-size="16.45" text-anchor="middle" font-weight="normal" >0.8</text>
<line x1="1570.75" y1="1126" x2="1570.75" y2="1131.6" stroke="#000000" stroke-width="1.3" />
<text x="1570.75" y="1150.6" font-size="16.45" text-anchor="middle" font-weight="normal" >1.0</text>
<line x1="879.15" y1="1058.98" x2="884.75" y2="1058.98" stroke="#000000" stroke-width="1.3" />
<text x="871.75" y="1064.68" font-size="16.45" text-anchor="end" font-weight="normal" >−0.1</text>
<line x1="879.15" y1="974.8" x2="884.75" y2="974.8" stroke="#000000" stroke-width="1.3" />
<text x="871.75" y="980.5" font-size="16.45" text-anchor="end" font-weight="normal" >0.0</text>
<line x1="879.15" y1="890.62" x2="884.75" y2="890.62" stroke="#000000" stroke-width="1.3" />
<text x="871.75" y="896.32" font-size="16.45" text-anchor="end" font-weight="normal" >0.1</text>
<line x1="879.15" y1="806.44" x2="884.75" y2="806.44" stroke="#000000" stroke-width="1.3" />
<text x="871.75" y="812.14" font-size="16.45" text-anchor="end" font-weight="normal" >0.2</text>
<line x1="879.15" y1="722.26" x2="884.75" y2="722.26" stroke="#000000" stroke-width="1.3" />
<text x="871.75" y="727.96" font-size="16.45" text-anchor="end" font-weight="normal" >0.3</text>
<line x1="879.15" y1="638.08" x2="884.75" y2="638.08" stroke="#000000" stroke-width="1.3" />
<text x="871.75" y="643.78" font-size="16.45" text-anchor="end" font-weight="normal" >0.4</text>
<text x="1227.75" y="1173.2" font-size="16.95" text-anchor="middle" font-weight="normal" >Threshold Probability</text>
<text x="828.2" y="865.7" font-size="16.95" text-anchor="middle" font-weight="normal" transform="rotate(-90 828.2 865.7)" >Net Benefit</text>
<rect x="1321.25" y="613.25" width="241.5" height="172.75" rx="2.5" ry="2.5" fill="#ffffff" fill-opacity="0.8" stroke="#111111" stroke-width="1.3"/>
<text x="1441.6" y="632.2" font-size="16.95" text-anchor="middle" font-weight="normal" >Validation Cohort2</text>
<line x1="1327.45" y1="650.2" x2="1363.25" y2="650.2" stroke="#ff0000" stroke-width="2.4" />
<text x="1376.25" y="655.9" font-size="16.95" text-anchor="start" font-weight="normal" >Feature Fusion Model</text>
<line x1="1327.45" y1="674.2" x2="1363.25" y2="674.2" stroke="#008000" stroke-width="2.4" />
<text x="1376.25" y="679.9" font-size="16.95" text-anchor="start" font-weight="normal" >Multi-Task DNN Model</text>
<line x1="1327.45" y1="698.2" x2="1363.25" y2="698.2" stroke="#0000ff" stroke-width="2.4" />
<text x="1376.25" y="703.9" font-size="16.95" text-anchor="start" font-weight="normal" >Radiomics Model</text>
<line x1="1327.45" y1="722.2" x2="1363.25" y2="722.2" stroke="#ffa500" stroke-width="2.4" />
<text x="1376.25" y="727.9" font-size="16.95" text-anchor="start" font-weight="normal" >Single-Task DNN Model</text>
<line x1="1327.45" y1="746.2" x2="1363.25" y2="746.2" stroke="#000000" stroke-width="2.4" />
<text x="1376.25" y="751.9" font-size="16.95" text-anchor="start" font-weight="normal" >Treat all</text>
<line x1="1327.85" y1="770.2" x2="1363.25" y2="770.2" stroke="#000000" stroke-width="2.6" stroke-dasharray="2.2 4.7"/>
<text x="1376.25" y="775.9" font-size="16.95" text-anchor="start" font-weight="normal" >Treat none</text>
<text x="0.79" y="23.6" font-size="24.2" font-weight="bold" textLength="31.92" lengthAdjust="spacingAndGlyphs" fill="#000" stroke="none">(a)</text>
<text x="566.25" y="23.6" font-size="24.8" font-weight="bold" textLength="34.3" lengthAdjust="spacingAndGlyphs" fill="#000" stroke="none">(b)</text>
<text x="1135.2" y="21" font-size="27.2" font-weight="bold" textLength="35.2" lengthAdjust="spacingAndGlyphs" fill="#000" stroke="none">(c)</text>
<text x="1.16" y="605.6" font-size="23.0" font-weight="bold" textLength="29.98" lengthAdjust="spacingAndGlyphs" fill="#000" stroke="none">(d)</text>
<text x="801.56" y="605.3" font-size="23.0" font-weight="bold" textLength="28.18" lengthAdjust="spacingAndGlyphs" fill="#000" stroke="none">(e)</text>
</svg></body></html>
